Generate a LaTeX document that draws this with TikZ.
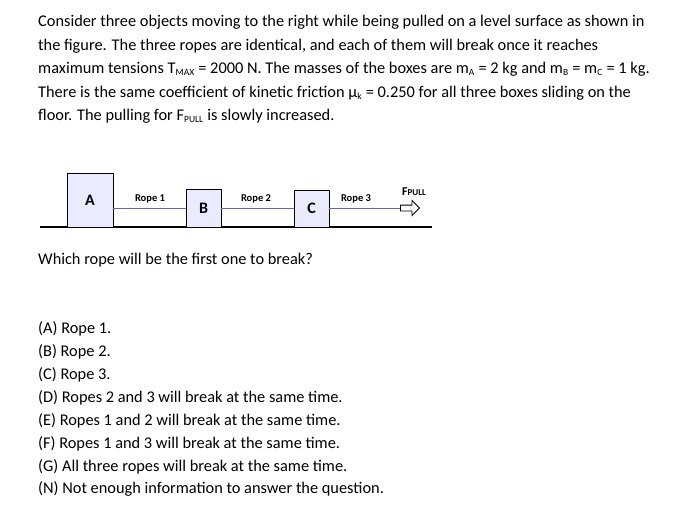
\documentclass[tikz,border=0pt]{standalone}
\usepackage{fontspec}
\setmainfont{Carlito}
\usetikzlibrary{shapes.arrows}
\newcommand{\sbs}[1]{\textsubscript{\fontsize{9.5}{9.5}\selectfont #1}}
\begin{document}
\begin{tikzpicture}[x=1pt,y=-1pt,
  txt/.style={anchor=base west,inner sep=0pt,font=\fontsize{16.35}{18}\selectfont},
  box/.style={draw,fill=blue!8,line width=0.8pt,inner sep=0pt,font=\fontsize{16}{18}\selectfont\bfseries},
  rope/.style={draw=blue!50!black!60,line width=0.8pt},
  rlab/.style={font=\fontsize{10.5}{12}\selectfont\bfseries,inner sep=0pt}]
\useasboundingbox (0,0) rectangle (700,523);
\node[txt] (l1) at (38,26) {Consider three objects moving to the right while being pulled on a level surface as shown in};
\node[txt] (l2) at (38,50) {the figure. The three ropes are identical, and each of them will break once it reaches};
\node[txt] (l3) at (38,73) {maximum tensions T\sbs{MAX} = 2000 N. The masses of the boxes are m\sbs{A} = 2 kg and m\sbs{B} = m\sbs{C} = 1 kg.};
\node[txt] (l4) at (38,97) {There is the same coefficient of kinetic friction μ\sbs{k} = 0.250 for all three boxes sliding on the};
\node[txt] (l5) at (38,120) {floor. The pulling for F\sbs{PULL} is slowly increased.};
% figure
\coordinate (g1) at (40,227);
\coordinate (g2) at (432,227);
\draw[line width=1.3pt] (g1) -- (g2);
\node[box,minimum width=46,minimum height=54] (A) at (90,200) {A};
\node[box,minimum width=35,minimum height=38] (B) at (203.5,208) {B};
\node[box,minimum width=35,minimum height=37] (C) at (311.5,208.5) {C};
\coordinate (re) at (400,208);
\draw[rope] (A.east |- 0,208) -- (B.west |- 0,208);
\draw[rope] (B.east |- 0,208) -- (C.west |- 0,208);
\draw[rope] (C.east |- 0,208) -- (re);
\node[single arrow,draw,fill=white,line width=0.9pt,minimum height=19,minimum width=15,single arrow head extend=3,inner sep=1.5pt,anchor=west] (ar) at (re) {};
\node[rlab] (r1) at (150,199) {Rope 1};
\node[rlab] (r2) at (256,199) {Rope 2};
\node[rlab] (r3) at (356,199) {Rope 3};
\node[font=\fontsize{12}{12}\selectfont\bfseries,inner sep=0pt] (fp) at (414,192) {F\fontsize{9}{9}\selectfont PULL};
\node[txt] (q) at (38,264) {Which rope will be the first one to break?};
\node[txt] (o1) at (38,333) {(A) Rope 1.};
\node[txt] (o2) at (38,356) {(B) Rope 2.};
\node[txt] (o3) at (38,379) {(C) Rope 3.};
\node[txt] (o4) at (38,402) {(D) Ropes 2 and 3 will break at the same time.};
\node[txt] (o5) at (38,425) {(E) Ropes 1 and 2 will break at the same time.};
\node[txt] (o6) at (38,448) {(F) Ropes 1 and 3 will break at the same time.};
\node[txt] (o7) at (38,471) {(G) All three ropes will break at the same time.};
\node[txt] (o8) at (38,493) {(N) Not enough information to answer the question.};
\end{tikzpicture}
\end{document}
